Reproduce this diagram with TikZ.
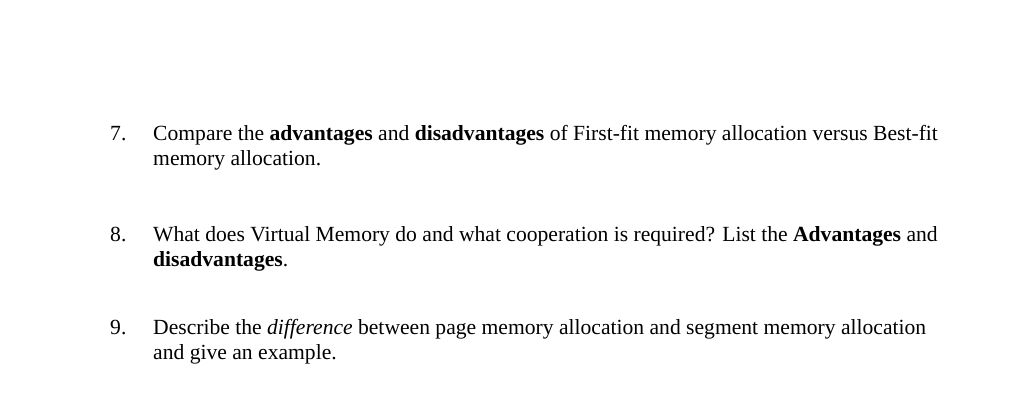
\documentclass[tikz,border=0pt]{standalone}
\usepackage{fontspec}
\setmainfont{Liberation Serif}
\begin{document}
\begin{tikzpicture}[x=1pt,y=-1pt,txt/.style={anchor=base west,inner sep=0pt,font=\fontsize{21.6}{25}\selectfont}]
\useasboundingbox[fill=white] (0,0) rectangle (1024,414);
\node[txt] (n7) at (110,141) {7.};
\node[txt] (a1) at (153,141) {Compare the \textbf{advantages} and \textbf{disadvantages} of First-fit memory allocation versus Best-fit};
\node[txt] (a2) at (153,166) {memory allocation.};
\node[txt] (n8) at (110,241) {8.};
\node[txt] (b1) at (153,241) {What does Virtual Memory do and what cooperation is required? List the \textbf{Advantages} and};
\node[txt] (b2) at (153,266) {\textbf{disadvantages}.};
\node[txt] (n9) at (110,334) {9.};
\node[txt] (c1) at (153,334) {Describe the \textit{difference} between page memory allocation and segment memory allocation};
\node[txt] (c2) at (153,359) {and give an example.};
\end{tikzpicture}
\end{document}
